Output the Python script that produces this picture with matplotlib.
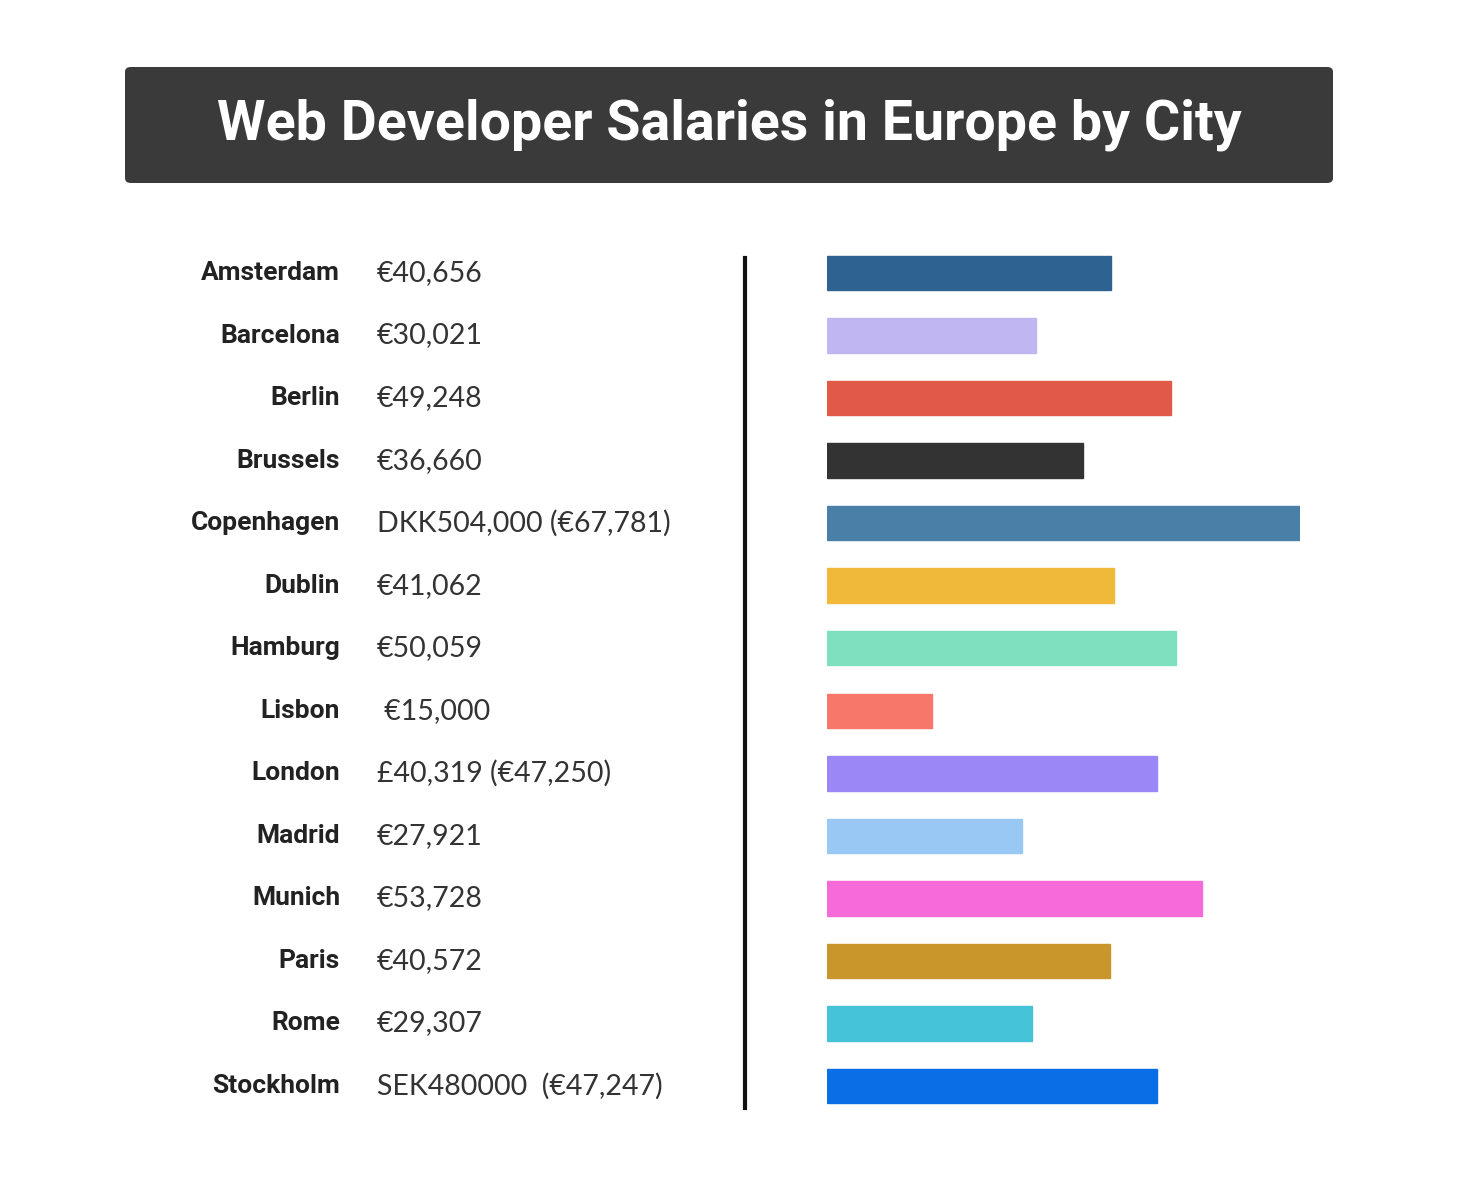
import matplotlib
matplotlib.use("Agg")
import matplotlib.pyplot as plt
from matplotlib.patches import FancyBboxPatch

cities = ['Amsterdam', 'Barcelona', 'Berlin', 'Brussels', 'Copenhagen', 'Dublin', 'Hamburg',
          'Lisbon', 'London', 'Madrid', 'Munich', 'Paris', 'Rome', 'Stockholm']
salaries_eur = [40656, 30021, 49248, 36660, 67781, 41062, 50059,
                15000, 47250, 27921, 53728, 40572, 29307, 47247]
salary_labels = ['€40,656', '€30,021', '€49,248', '€36,660', 'DKK504,000 (€67,781)', '€41,062', '€50,059',
                 ' €15,000', '£40,319 (€47,250)', '€27,921', '€53,728', '€40,572', '€29,307',
                 'SEK480000  (€47,247)']
colors = ['#2e6391', '#c0b6f2', '#e05a47', '#333333', '#4a7fa8', '#f0b93a', '#7fe0c0',
          '#f7786b', '#9b87f5', '#99c8f5', '#f76bd8', '#c9962b', '#45c4d9', '#0a6fe6']

W, H = 1460, 1196
fig = plt.figure(figsize=(W / 100, H / 100), dpi=100)
fig.patch.set_facecolor('white')

narrow = ['Roboto', 'DejaVu Sans']

# title box
tb = FancyBboxPatch((125 / W, 1 - 183 / H), 1208 / W, 116 / H,
                    boxstyle='round,pad=0,rounding_size=0.004', transform=fig.transFigure,
                    facecolor='#3a3a3a', edgecolor='none')
fig.patches.append(tb)
fig.text(729 / W, 1 - 125 / H, 'Web Developer Salaries in Europe by City', color='white',
         fontsize=40, fontweight='bold', fontstretch='condensed', family=narrow,
         ha='center', va='center')

row0, step = 273, (1086 - 273) / 13
for i, (c, lab) in enumerate(zip(cities, salary_labels)):
    y = 1 - (row0 + i * step) / H
    fig.text(340 / W, y, c, ha='right', va='center', fontsize=19, fontweight='bold',
             fontstretch='condensed', family=narrow, color='#222222')
    fig.text(377 / W, y, lab, ha='left', va='center', fontsize=20.5, family=['Lato', 'DejaVu Sans'],
             color='#333333')

# divider
fig.add_artist(plt.Line2D([745 / W, 745 / W], [1 - 258 / H, 1 - 1108 / H], color='#111111',
                          lw=3, transform=fig.transFigure))

top = row0 - step / 2
bottom = 1086 + step / 2
ax = fig.add_axes([827 / W, 1 - bottom / H, 473 / W, (bottom - top) / H])
ax.barh(range(len(cities)), salaries_eur, height=0.55, color=colors, edgecolor=colors)
ax.set_xlim(0, max(salaries_eur))
ax.set_ylim(len(cities) - 0.5, -0.5)
ax.axis('off')

fig.savefig('out.png', dpi=100, facecolor='white')
